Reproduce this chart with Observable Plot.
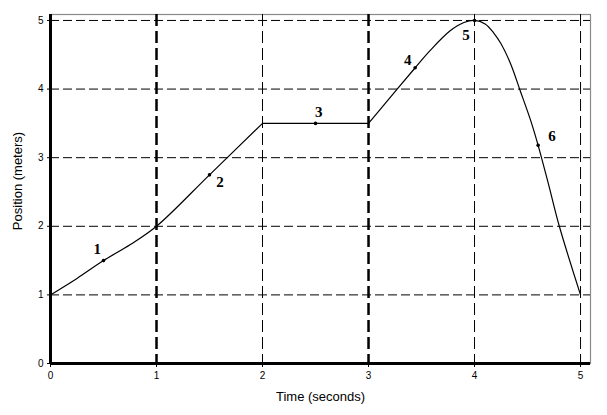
<!DOCTYPE html>
<html><head><meta charset="utf-8">
<script src="https://cdn.jsdelivr.net/npm/d3@7"></script>
<script src="https://cdn.jsdelivr.net/npm/@observablehq/plot@0.6"></script>
<style>body{margin:0;background:#fff}</style>
</head><body><div id="chart"></div>
<script>
// curve trace (time in seconds, position in meters), split into pieces at the corners t=2 and t=3
const segment =  ["a", "a", "a", "a", "a", "a", "a", "b", "b", "b", "c", "c", "c", "c", "c", "c", "c", "c", "c", "c", "c", "c", "c", "c", "c", "c", "c"];
const time =     [0, 0.25, 0.5, 0.75, 1, 1.5, 2, 2, 2.5, 3, 3, 3.27, 3.44, 3.58, 3.77, 3.9, 4, 4.1, 4.18, 4.25, 4.34, 4.43, 4.53, 4.6, 4.7, 4.8, 5];
const position = [1, 1.24, 1.5, 1.73, 2, 2.75, 3.5, 3.5, 3.5, 3.5, 3.5, 4.0, 4.31, 4.56, 4.85, 4.97, 5, 4.95, 4.82, 4.66, 4.37, 3.98, 3.54, 3.18, 2.6, 2.0, 1];
// marked points and their numbers
const markerTime = [0.5, 1.5, 2.5, 3.44, 4, 4.6];
const markerPos  = [1.5, 2.75, 3.5, 4.31, 5, 3.18];
const labelText  = ["1", "2", "3", "4", "5", "6"];
const labelTime  = [0.44, 1.60, 2.53, 3.37, 3.92, 4.73];
const labelPos   = [1.66, 2.65, 3.67, 4.42, 4.78, 3.32];
// ticks and grid
const xTicks = [0, 1, 2, 3, 4, 5];
const yTicks = [0, 1, 2, 3, 4, 5];
const thickGridX = [1, 3];
const thinGridX = [2, 4, 5];
const gridY = [1, 2, 3, 4, 5];
const xTitle = "Time (seconds)";
const yTitle = "Position (meters)";

const curve = time.map((t, i) => ({t, p: position[i], s: segment[i]}));
const markers = markerTime.map((t, i) => ({t, p: markerPos[i]}));
const labels = labelText.map((s, i) => ({s, t: labelTime[i], p: labelPos[i]}));

const chart = Plot.plot({
  width: 607,
  height: 415,
  marginLeft: 50,
  marginRight: 17,
  marginTop: 14,
  marginBottom: 52,
  style: {fontFamily: "'Liberation Sans', Arial, sans-serif", background: "#fff", color: "#000"},
  x: {domain: [0, 5.094]},
  y: {domain: [0, 5.087]},
  marks: [
    Plot.frame({stroke: "#8a8a8a", strokeWidth: 1.2}),
    Plot.ruleY(gridY, {stroke: "#000", strokeWidth: 1, strokeDasharray: "9,4"}),
    Plot.ruleX(thinGridX, {stroke: "#000", strokeWidth: 1, strokeDasharray: "12,5"}),
    Plot.ruleX(thickGridX, {stroke: "#000", strokeWidth: 2.5, strokeDasharray: "12,5"}),
    Plot.ruleX([0], {stroke: "#000", strokeWidth: 3}),
    Plot.ruleY([0], {stroke: "#000", strokeWidth: 3}),
    Plot.axisX(xTicks, {tickSize: 4, tickPadding: 4, fontSize: 10, label: null, tickFormat: d => String(d)}),
    Plot.axisY(yTicks, {tickSize: 3, tickPadding: 4, fontSize: 10, label: null, tickFormat: d => String(d)}),
    Plot.line(curve, {x: "t", y: "p", z: "s", stroke: "#000", strokeWidth: 1.2, curve: "catmull-rom"}),
    Plot.dot(markers, {x: "t", y: "p", r: 1.8, fill: "#000", stroke: null}),
    Plot.text(labels, {x: "t", y: "p", text: "s", fontSize: 15, fontWeight: "bold", fontFamily: "'Liberation Serif', 'Times New Roman', serif", fill: "#000"}),
    Plot.text([xTitle], {frameAnchor: "bottom", dy: 33, lineAnchor: "middle", fontSize: 13, fill: "#000"}),
    Plot.text([yTitle], {frameAnchor: "left", dx: -33, dy: -8, rotate: -90, lineAnchor: "middle", textAnchor: "middle", fontSize: 13, fill: "#000"})
  ]
});
document.getElementById("chart").appendChild(chart);
</script>
</body></html>
